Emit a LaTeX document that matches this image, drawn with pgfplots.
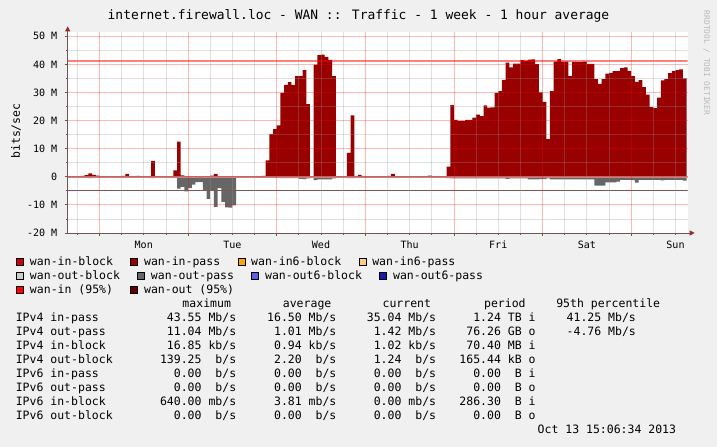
\documentclass[border=0pt]{standalone}
\usepackage{pgfplots}
\pgfplotsset{compat=1.18}
\usepackage{fontspec}
\setmainfont{DejaVu Sans Mono}
\usetikzlibrary{arrows.meta}

\definecolor{bgc}{RGB}{240,240,240}
\definecolor{inpass}{RGB}{153,0,0}
\definecolor{inblock}{RGB}{204,0,0}
\definecolor{inbsix}{RGB}{255,165,0}
\definecolor{inpsix}{RGB}{255,204,128}
\definecolor{outblock}{RGB}{204,204,204}
\definecolor{outpass}{RGB}{102,102,102}
\definecolor{outbsix}{RGB}{96,96,230}
\definecolor{outpsix}{RGB}{26,26,170}
\definecolor{inpct}{RGB}{255,0,0}
\definecolor{outpct}{RGB}{102,0,0}
\definecolor{outpctline}{RGB}{120,55,55}
\definecolor{axc}{RGB}{110,85,85}
\definecolor{arrc}{RGB}{150,45,45}
\definecolor{mgrid}{RGB}{255,0,0}
\definecolor{ngrid}{RGB}{150,150,150}
\definecolor{zeroc}{RGB}{196,130,130}
\definecolor{wmark}{RGB}{185,185,185}

\begin{document}
\begin{tikzpicture}
\useasboundingbox (0,0) rectangle (717bp,447bp);
\fill[bgc] (0,0) rectangle (717bp,447bp);
\begin{axis}[
  at={(67.7bp,214bp)}, anchor=south west, scale only axis,
  width=620bp, height=200.7bp,
  xmin=-8.6, xmax=159.3, ymin=-20, ymax=51.42,
  axis background/.style={fill=white},
  axis lines=left,
  axis line style={axc, line width=0.9bp},
  x axis line style={-{Triangle[length=5bp,width=5bp,color=arrc]}, shorten >=-7bp},
  y axis line style={-{Triangle[length=5bp,width=5bp,color=arrc]}, shorten >=-6bp},
  axis on top,
  xtick={0,24,48,72,96,120,144}, xticklabels={},
  extra x ticks={12,36,60,84,108,132,156},
  extra x tick labels={Mon,Tue,Wed,Thu,Fri,Sat,Sun},
  extra x tick style={grid=none, major tick length=0pt},
  minor xtick={-6,6,12,18,30,36,42,54,60,66,78,84,90,102,108,114,126,132,138,150,156},
  ytick={-20,-10,0,10,20,30,40,50},
  yticklabels={-20 M,-10 M,0,10 M,20 M,30 M,40 M,50 M},
  minor ytick={-15,-5,5,15,25,35,45},
  xmajorgrids, ymajorgrids, xminorgrids, yminorgrids,
  major grid style={draw=mgrid, draw opacity=0.28, line width=0.8bp},
  minor grid style={draw=ngrid, draw opacity=0.3, line width=0.8bp},
  tick align=outside,
  major tick length=3bp, minor tick length=2bp,
  tick style={axc, line width=0.8bp},
  xticklabel style={font=\fontsize{10.1}{12}\selectfont, anchor=base, inner sep=0pt, yshift=-15.4bp},
  yticklabel style={font=\fontsize{10.1}{12}\selectfont, anchor=east, inner sep=0pt, xshift=-7.2bp},
]
\addplot[const plot, fill=inpass, draw=none] coordinates {
(-9,0) (-8,0) (-7,0) (-6,0) (-5,0.3) (-4,0.6) (-3,1.2) (-2,0.7) (-1,0.4) (0,0.2)
(1,0.1) (2,0.1) (3,0) (4,0) (5,0.1) (6,0.3) (7,1.0) (8,0.2) (9,0) (10,0.3)
(11,0.1) (12,0.1) (13,0.1) (14,5.7) (15,0.1) (16,0.1) (17,0.1) (18,0.1) (19,0.2) (20,2.3)
(21,12.5) (22,0.5) (23,0.1) (24,0.1) (25,0.1) (26,0.1) (27,0.1) (28,0.1) (29,0.2) (30,0.4)
(31,1.0) (32,0.2) (33,0.1) (34,0.1) (35,0.1) (36,0.1) (37,0.1) (38,0.2) (39,0.1) (40,0.1)
(41,0.1) (42,0.1) (43,0.1) (44,0.3) (45,5.8) (46,15.2) (47,17.0) (48,18.3) (49,29.9) (50,32.7)
(51,33.7) (52,32.7) (53,35.8) (54,35.8) (55,38.0) (56,25.9) (57,0) (58,39.9) (59,43.3) (60,43.5)
(61,42.7) (62,41.6) (63,35.8) (64,0) (65,0) (66,0) (67,8.5) (68,21.9) (69,0) (70,0.7)
(71,0.1) (72,0.1) (73,0.1) (74,0.1) (75,0.1) (76,0.1) (77,0.1) (78,0.3) (79,1.0) (80,0.1)
(81,0.1) (82,0.1) (83,0.1) (84,0.1) (85,0.1) (86,0.1) (87,0.1) (88,0.1) (89,0.4) (90,0.1)
(91,0.1) (92,0.1) (93,0.1) (94,3.6) (95,25.5) (96,20.3) (97,19.9) (98,19.9) (99,20.3) (100,20.3)
(101,21.1) (102,22.1) (103,21.6) (104,25.4) (105,24.6) (106,24.7) (107,29.9) (108,30.5) (109,34.5) (110,40.6)
(111,38.9) (112,40.3) (113,40.3) (114,41.5) (115,41.3) (116,41.7) (117,41.8) (118,40.1) (119,30.0) (120,26.7)
(121,13.4) (122,30.5) (123,41.0) (124,41.9) (125,41.0) (126,41.0) (127,35.8) (128,40.9) (129,40.8) (130,40.8)
(131,41.0) (132,40.2) (133,40.2) (134,34.8) (135,33.1) (136,34.8) (137,36.7) (138,37.0) (139,37.6) (140,37.6)
(141,38.7) (142,38.9) (143,37.6) (144,35.8) (145,33.8) (146,34.4) (147,31.9) (148,29.2) (149,24.8) (150,24.4)
(151,28.2) (152,34.3) (153,34.8) (154,36.9) (155,37.7) (156,38.0) (157,38.2) (158,35.0) (159,35.0)
} \closedcycle;
\addplot[const plot, fill=outpass, draw=none] coordinates {
(-9,0) (-8,0) (-7,0) (-6,0) (-5,0) (-4,-0.1) (-3,-0.5) (-2,-0.1) (-1,-0.1) (0,0)
(1,0) (2,0) (3,0) (4,0) (5,0) (6,0) (7,-0.1) (8,-0.3) (9,0) (10,0)
(11,0) (12,0) (13,0) (14,-0.5) (15,0) (16,0) (17,0) (18,0) (19,0) (20,-0.1)
(21,-4.2) (22,-3.6) (23,-5.2) (24,-4.0) (25,-2.8) (26,-1.9) (27,-1.9) (28,-4.7) (29,-7.9) (30,-4.7)
(31,-10.7) (32,-4.0) (33,-8.9) (34,-10.9) (35,-11.0) (36,-10.2) (37,-0.1) (38,-0.1) (39,0) (40,0)
(41,0) (42,0) (43,-0.1) (44,-0.1) (45,-0.3) (46,-0.3) (47,-0.3) (48,-0.3) (49,-0.5) (50,-0.5)
(51,-0.5) (52,-0.5) (53,-0.5) (54,-0.7) (55,-0.8) (56,-0.6) (57,-0.4) (58,-1.2) (59,-0.9) (60,-0.9)
(61,-0.9) (62,-0.9) (63,-0.6) (64,-0.1) (65,-0.1) (66,-0.1) (67,-0.5) (68,-0.5) (69,-0.1) (70,-0.2)
(71,-0.1) (72,-0.1) (73,-0.1) (74,-0.1) (75,-0.1) (76,-0.1) (77,-0.1) (78,-0.1) (79,-0.2) (80,-0.1)
(81,-0.1) (82,-0.1) (83,-0.1) (84,-0.1) (85,-0.1) (86,-0.1) (87,-0.1) (88,-0.1) (89,-0.1) (90,-0.1)
(91,-0.1) (92,-0.1) (93,-0.1) (94,-0.5) (95,-0.6) (96,-0.6) (97,-0.6) (98,-0.6) (99,-0.6) (100,-0.6)
(101,-0.6) (102,-0.6) (103,-0.6) (104,-0.6) (105,-0.6) (106,-0.6) (107,-0.6) (108,-0.6) (109,-0.6) (110,-0.7)
(111,-0.6) (112,-0.6) (113,-0.6) (114,-0.6) (115,-0.6) (116,-0.9) (117,-0.9) (118,-0.9) (119,-0.8) (120,-0.8)
(121,-0.6) (122,-0.9) (123,-0.9) (124,-0.9) (125,-0.9) (126,-0.9) (127,-0.9) (128,-0.9) (129,-0.9) (130,-0.9)
(131,-0.9) (132,-0.9) (133,-0.9) (134,-3.1) (135,-3.1) (136,-3.1) (137,-2.0) (138,-2.0) (139,-2.0) (140,-1.7)
(141,-1.1) (142,-1.1) (143,-1.1) (144,-1.2) (145,-2.1) (146,-1.1) (147,-1.1) (148,-1.1) (149,-1.1) (150,-1.1)
(151,-1.1) (152,-1.3) (153,-1.1) (154,-1.1) (155,-1.1) (156,-1.1) (157,-1.1) (158,-1.4) (159,-1.4)
} \closedcycle;
\addplot[zeroc, line width=1.6bp] coordinates {(-8.6,0) (159.3,0)};
\addplot[inpct, draw opacity=0.5, line width=1.7bp] coordinates {(-8.6,41.25) (159.3,41.25)};
\addplot[outpctline, line width=1.3bp] coordinates {(-8.6,-4.76) (159.3,-4.76)};
\end{axis}

\begin{scope}[x=1bp, y=1bp, every node/.style={inner sep=0pt, font=\fontsize{11.54}{14}\selectfont}]
% title
\node[anchor=base, font=\fontsize{13}{15}\selectfont] at (358.5,427) {internet.firewall.loc - WAN :: Traffic - 1 week - 1 hour average};
% watermark
\node[rotate=-90, text=wmark, font=\fontsize{7.9}{9}\selectfont] at (706.7,384) {RRDTOOL / TOBI OETIKER};
% unit label
\node[rotate=90] at (16,316) {bits/sec};
% legend boxes
\tikzset{lb/.style={draw=black, line width=0.6bp}}
\filldraw[lb, fill=inblock]  (16.5,181.8) rectangle ++(7,7);
\filldraw[lb, fill=inpass]   (130.6,181.8) rectangle ++(7,7);
\filldraw[lb, fill=inbsix]   (237.8,181.8) rectangle ++(7,7);
\filldraw[lb, fill=inpsix]   (358.8,181.8) rectangle ++(7,7);
\filldraw[lb, fill=outblock] (16.5,167.8) rectangle ++(7,7);
\filldraw[lb, fill=outpass]  (137.6,167.8) rectangle ++(7,7);
\filldraw[lb, fill=outbsix]  (251.7,167.8) rectangle ++(7,7);
\filldraw[lb, fill=outpsix]  (379.7,167.8) rectangle ++(7,7);
\filldraw[lb, fill=inpct]    (16.5,153.8) rectangle ++(7,7);
\filldraw[lb, fill=outpct]   (130.6,153.8) rectangle ++(7,7);
\node[anchor=base west] at (29.8,181.8) {wan-in-block};
\node[anchor=base west] at (143.9,181.8) {wan-in-pass};
\node[anchor=base west] at (251.0,181.8) {wan-in6-block};
\node[anchor=base west] at (372.1,181.8) {wan-in6-pass};
\node[anchor=base west] at (29.8,167.8) {wan-out-block};
\node[anchor=base west] at (150.8,167.8) {wan-out-pass};
\node[anchor=base west] at (264.9,167.8) {wan-out6-block};
\node[anchor=base west] at (392.9,167.8) {wan-out6-pass};
\node[anchor=base west] at (29.8,153.8) {wan-in (95\%)};
\node[anchor=base west] at (143.9,153.8) {wan-out (95\%)};
% header
\node[anchor=base west] at (182.3,139.8) {maximum};
\node[anchor=base west] at (282.7,139.8) {average};
\node[anchor=base west] at (382.4,139.8) {current};
\node[anchor=base west] at (483.9,139.8) {period};
\node[anchor=base west] at (556.1,139.8) {95th percentile};
% row labels
\node[anchor=base west] at (15.6,125.8) {IPv4 in-pass};
\node[anchor=base west] at (15.6,111.8) {IPv4 out-pass};
\node[anchor=base west] at (15.6,97.8) {IPv4 in-block};
\node[anchor=base west] at (15.6,83.8) {IPv4 out-block};
\node[anchor=base west] at (15.6,69.8) {IPv6 in-pass};
\node[anchor=base west] at (15.6,55.8) {IPv6 out-pass};
\node[anchor=base west] at (15.6,41.8) {IPv6 in-block};
\node[anchor=base west] at (15.6,27.8) {IPv6 out-block};
% maximum
\node[anchor=base east] at (236.4,125.8) {43.55 Mb/s};
\node[anchor=base east] at (236.4,111.8) {11.04 Mb/s};
\node[anchor=base east] at (236.4,97.8) {16.85 kb/s};
\node[anchor=base east] at (236.4,83.8) {139.25\ \ b/s};
\node[anchor=base east] at (236.4,69.8) {0.00\ \ b/s};
\node[anchor=base east] at (236.4,55.8) {0.00\ \ b/s};
\node[anchor=base east] at (236.4,41.8) {640.00 mb/s};
\node[anchor=base east] at (236.4,27.8) {0.00\ \ b/s};
% average
\node[anchor=base east] at (336.6,125.8) {16.50 Mb/s};
\node[anchor=base east] at (336.6,111.8) {1.01 Mb/s};
\node[anchor=base east] at (336.6,97.8) {0.94 kb/s};
\node[anchor=base east] at (336.6,83.8) {2.20\ \ b/s};
\node[anchor=base east] at (336.6,69.8) {0.00\ \ b/s};
\node[anchor=base east] at (336.6,55.8) {0.00\ \ b/s};
\node[anchor=base east] at (336.6,41.8) {3.81 mb/s};
\node[anchor=base east] at (336.6,27.8) {0.00\ \ b/s};
% current
\node[anchor=base east] at (436.3,125.8) {35.04 Mb/s};
\node[anchor=base east] at (436.3,111.8) {1.42 Mb/s};
\node[anchor=base east] at (436.3,97.8) {1.02 kb/s};
\node[anchor=base east] at (436.3,83.8) {1.24\ \ b/s};
\node[anchor=base east] at (436.3,69.8) {0.00\ \ b/s};
\node[anchor=base east] at (436.3,55.8) {0.00\ \ b/s};
\node[anchor=base east] at (436.3,41.8) {0.00 mb/s};
\node[anchor=base east] at (436.3,27.8) {0.00\ \ b/s};
% period
\node[anchor=base east] at (535.8,125.8) {1.24 TB i};
\node[anchor=base east] at (535.8,111.8) {76.26 GB o};
\node[anchor=base east] at (535.8,97.8) {70.40 MB i};
\node[anchor=base east] at (535.8,83.8) {165.44 kB o};
\node[anchor=base east] at (535.8,69.8) {0.00\ \ B i};
\node[anchor=base east] at (535.8,55.8) {0.00\ \ B o};
\node[anchor=base east] at (535.8,41.8) {286.30\ \ B i};
\node[anchor=base east] at (535.8,27.8) {0.00\ \ B o};
% 95th
\node[anchor=base east] at (636.1,125.8) {41.25 Mb/s};
\node[anchor=base east] at (636.1,111.8) {-4.76 Mb/s};
% date
\node[anchor=base east] at (676.3,13.8) {Oct 13 15:06:34 2013};
\end{scope}
\end{tikzpicture}
\end{document}
